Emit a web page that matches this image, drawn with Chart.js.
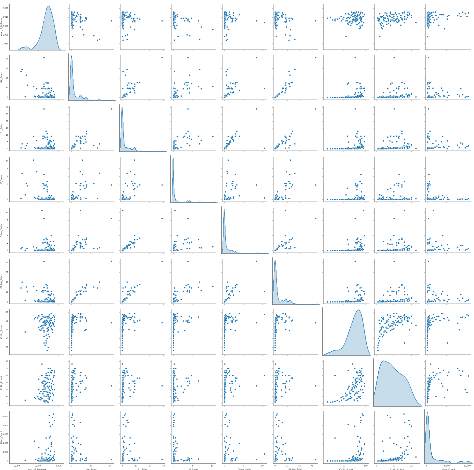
<!DOCTYPE html>
<html><head><meta charset="utf-8">
<script src="https://cdn.jsdelivr.net/npm/chart.js@4"></script>
<style>html,body{margin:0;padding:0;background:#fff;width:474px;height:470px;overflow:hidden;position:relative}canvas{position:absolute}</style>
</head><body>
<script>
const varNames=["Year_of_Release","NA_Sales","EU_Sales","JP_Sales","Other_Sales","Global_Sales","Critic_Score","Critic_Count","User_Count"];
const n=null;
const yearVals=[2006,1985,2008,2009,1996,1989,2006,2006,2009,1984,1999,2005,2007,2010,2009,2013,2004,1990,2005,2013,2015,2011,2010,2011,2012,2015,2014,2016,2011,1997,2001,1988,2004,2012,2014,2008,
2008,2010,2007,2003,2011,2009,2006,2012,2005,2014,2002,2008,2013,2007,2010,2004,2016,2009,2001,2011,2006,2012,2008,2005,2015,2003,2010,2007,2013,2009,2000,2008,2011,2006,2014,2010,2002,2012,2007,2016,2004,2009,2011,2005,2013,1998,2008,2010,2006,2015,2003,2012,2007,2009,2014,2001,2008,2011,2006,2010,2013,2016,2015,2009];
const naVals=[41.36,29.08,15.68,15.61,11.27,23.2,11.28,13.96,14.44,26.93,9,9.71,8.92,15,9.01,7.02,9.43,12.78,4.74,9.66,6.03,9.04,9.7,5.54,4.99,1.02,0.28,2.8,0.84,1.4,2.1,0.9,0.5,3.2,1.5,0.2,
0.45,0.12,1.2,0.3,0.05,0.6,0.08,0.9,0.25,0.4,0.7,0.02,0.15,2.5,0.35,0.1,0.2,0.05,1.8,0.65,0.18,0.03,3.5,0.55,0.12,0.4,0.08,0.3,1.6,0.22,0.95,0.07,0.28,0.85,0.05,4.2,0.15,0.45,0.03,0.5,1.1,0.12,0.02,0.33,0.7,0.6,0.18,0.9,0.04,0.25,0.12,2.1,0.5,1.5,0.1,0.25,0.65,0.15,0.4,0.02,0.08,0.05,0.02,0.01];
const euVals=[28.96,3.58,12.76,10.93,8.89,2.26,9.14,9.18,6.94,0.63,6.18,7.47,8.03,4.89,8.49,9.09,0.4,3.75,9.2,5.14,5.86,4.24,3.68,5.73,5.73,2.13,0.62,3.5,1.6,0.9,1.1,0.3,0.3,2.7,0.8,0.1,
0.3,0.05,0.6,0.1,0.1,0.45,0.02,0.7,0.2,0.5,0.25,0.01,0.3,1.2,0.15,0.05,0.35,0.02,0.8,0.4,0.1,0.04,2.0,0.2,0.25,0.3,0.06,0.25,1.4,0.1,0.55,0.03,0.35,0.4,0.02,3.1,0.08,0.2,0.02,0.9,0.7,0.15,0.01,0.18,0.95,0.4,0.12,0.6,0.01,0.45,0.03,1.8,0.35,1.0,0.08,0.1,0.55,0.05,0.6,0,0.2,0.1,0.05,0.02];
const jpVals=[3.77,6.81,3.79,3.28,10.22,4.22,6.5,2.93,4.7,0.28,7.2,4.13,3.6,0.24,2.53,0.98,0.41,3.54,4.16,0.06,0.36,0.13,0.11,0.49,0.65,0.23,0,0.15,0.02,0.6,0.9,1.2,0.2,0.1,0,0,
0,0,0.05,0,0.25,0.02,0,0.05,0.1,0.03,0,0.4,0.01,0.1,0,0,0.05,0,0.2,0,0,0.6,0.3,0,0.02,0.05,0,0.15,0.1,0,0.35,0,0.02,0,0.2,0.6,0,0,0,0.08,0.05,0,1.1,0,0.02,0.25,0,0,0,0.01,0,0.05,0,2.0,0,0,0.05,0,0,0,0,0,0,0];
const otherVals=[8.45,0.77,3.29,2.95,1.0,0.58,2.88,2.84,2.24,0.47,0.71,1.9,2.15,1.69,1.77,3.96,10.57,0.55,2.04,1.41,2.38,1.32,1.13,1.57,2.42,0.59,0.14,1.3,0.35,0.1,0.3,0.05,0.1,0.9,0.2,0.02,
0.08,0.02,0.2,0.01,0.02,0.15,0.01,0.25,0.05,0.15,0.05,0,0.06,0.4,0.05,0.01,0.08,0.01,0.15,0.12,0.03,0.01,0.8,0.03,0.05,0.08,0.02,0.08,0.5,0.03,0.1,0.01,0.1,0.1,0.01,1.1,0.02,0.07,0,0.25,0.2,0.04,0.01,0.04,0.3,0.05,0.03,0.15,0,0.1,0.01,0.6,0.08,0.3,0.02,0.02,0.15,0.02,0.1,0,0.03,0.02,0.01,0];
const globalVals=[82.53,40.24,35.52,32.77,31.37,30.26,29.8,28.92,28.32,28.31,23.1,23.21,22.7,21.81,21.79,21.04,20.81,20.61,20.15,16.27,14.63,14.73,14.61,13.33,13.79,3.97,1.04,7.75,2.81,3.0,4.4,2.45,1.1,6.9,2.5,0.32,
0.83,0.19,2.05,0.41,0.42,1.22,0.11,1.9,0.6,1.08,1.0,0.43,0.52,4.2,0.55,0.16,0.68,0.08,2.95,1.17,0.31,0.68,6.6,0.78,0.44,0.83,0.16,0.78,3.6,0.35,1.95,0.11,0.75,1.35,0.28,9.0,0.25,0.72,0.05,1.73,2.05,0.31,1.14,0.55,1.97,1.3,0.33,1.65,0.05,0.81,0.16,4.55,0.93,4.8,0.2,0.37,1.4,0.22,1.1,0.02,0.31,0.17,0.08,0.03];
const criticScoreVals=[76,n,82,80,n,n,89,58,87,n,n,91,80,61,80,97,95,n,77,97,n,88,87,88,83,92,88,89,94,85,90,55,70,75,60,30,
72,65,81,68,74,78,45,85,70,76,80,82,69,88,58,62,79,40,92,73,55,77,90,66,71,84,50,75,86,63,87,35,70,79,74,91,60,67,25,83,86,57,80,64,81,88,48,76,30,72,59,82,70,90,54,66,77,44,71,20,62,68,75,13];
const criticCountVals=[51,n,73,73,n,n,65,41,80,n,n,64,63,45,33,50,80,n,58,58,n,81,89,39,21,79,40,93,32,18,70,10,113,100,95,80,
35,20,55,18,12,60,10,70,40,65,30,8,45,75,25,15,90,6,40,50,22,30,85,28,55,35,14,45,95,33,20,9,60,48,10,100,12,38,5,80,60,25,15,30,88,15,20,70,7,75,11,90,42,50,30,14,58,18,35,4,50,40,25,5];
const userCountVals=[324,n,709,192,n,n,431,129,594,n,n,464,146,106,52,3994,1588,n,50,3711,n,8713,1454,5234,2256,10665,9851,9200,10300,4500,3000,80,900,7900,8300,5200,
120,40,300,25,15,450,8,1200,60,800,150,20,400,1800,35,12,1500,10,600,250,18,90,2500,45,650,200,20,110,4200,70,180,15,700,220,30,2900,14,300,6,2100,500,22,40,30,3300,350,25,600,9,1100,10,5600,130,380,95,20,260,16,75,5,600,250,150,7];
const xTicks=[[1980,2000,2020],[0,20,40],[0,10,20,30],[0,5,10],[0,5,10],[0,25,50,75],[50,100],[0,50,100],[0,5000,10000]];
const yTicks=[[1980,1990,2000,2010,2020],[0,10,20,30,40],[0,5,10,15,20,25,30],[0,2,4,6,8,10],[0,2,4,6,8,10],[0,20,40,60,80],[20,40,60,80,100],[0,20,40,60,80,100,120],[0,2000,4000,6000,8000,10000]];
const ranges=[[1973,2025],[-2.5,44],[-1.5,31],[-0.6,11],[-0.6,11.2],[-4,87],[3,107],[-6,124],[-550,11300]];

const allVals=[yearVals,naVals,euVals,jpVals,otherVals,globalVals,criticScoreVals,criticCountVals,userCountVals];
const N=Math.min(...allVals.map(a=>a.length));
const BLUE='#1f77b4';
const F='DejaVu Sans';
function kde(vals,lo,hi){
  const v=vals.slice(0,N).filter(x=>x!==null);
  const m=v.reduce((a,b)=>a+b,0)/v.length;
  const sd=Math.sqrt(v.reduce((a,b)=>a+(b-m)*(b-m),0)/(v.length-1));
  const s=[...v].sort((a,b)=>a-b);
  const q=p=>s[Math.floor(p*(s.length-1))];
  const iqr=q(0.75)-q(0.25);
  const bw=0.9*Math.max(Math.min(sd,iqr/1.34),sd*0.02)*Math.pow(v.length,-0.2);
  const pts=[];const steps=240;
  const a=Math.max(lo,Math.min(...v)-3*bw), b=Math.min(hi,Math.max(...v)+3*bw);
  for(let i=0;i<=steps;i++){const x=a+(b-a)*i/steps;let t2=0;for(const t of v){const z=(x-t)/bw;t2+=Math.exp(-0.5*z*z);}pts.push({x,y:t2/(v.length*bw*Math.sqrt(2*Math.PI))});}
  return pts;
}
const P=50.9, W=45.5;
for(let r=0;r<9;r++){for(let c=0;c<9;c++){
  const L=c===0?19:3, B=r===8?15:3;
  const cv=document.createElement('canvas');
  const cw=L+W+1, ch=1+W+B;
  cv.style.left=(19+c*P-L)+'px'; cv.style.top=(3+r*P-1)+'px';
  cv.style.width=cw+'px'; cv.style.height=ch+'px';
  cv.width=cw*2; cv.height=ch*2;
  document.body.appendChild(cv);
  const datasets=[];
  const scales={
    x:{type:'linear',min:ranges[c][0],max:ranges[c][1],
      afterBuildTicks:s=>{s.ticks=xTicks[c].map(v=>({value:v}));},
      afterFit:s=>{s.height=B;},
      grid:{display:true,drawOnChartArea:false,tickLength:1.5,color:'#444',lineWidth:0.5},
      border:{display:true,color:'#333',width:0.6},
      ticks:{display:r===8,font:{size:4,family:F},color:'#333',padding:1,maxRotation:0,autoSkip:false},
      title:{display:r===8,text:varNames[c],font:{size:4.5,family:F},color:'#333',padding:{top:1,bottom:0}}},
    y:{type:'linear',min:ranges[r][0],max:ranges[r][1],
      afterBuildTicks:s=>{s.ticks=yTicks[r].map(v=>({value:v}));},
      afterFit:s=>{s.width=L;},
      grid:{display:true,drawOnChartArea:false,tickLength:1.5,color:'#444',lineWidth:0.5},
      border:{display:true,color:'#333',width:0.6},
      ticks:{display:c===0,font:{size:4,family:F},color:'#333',padding:1,autoSkip:false},
      title:{display:c===0,text:varNames[r],font:{size:4.5,family:F},color:'#333',padding:{top:0,bottom:1}}}
  };
  if(r===c){
    const pts=kde(allVals[c],ranges[c][0],ranges[c][1]);
    const mx=Math.max(...pts.map(p=>p.y));
    scales.yk={type:'linear',display:false,min:0,max:mx*1.05};
    datasets.push({type:'line',data:pts,yAxisID:'yk',borderColor:BLUE,borderWidth:0.8,backgroundColor:'rgba(31,119,180,0.25)',fill:{target:{value:0}},pointRadius:0,tension:0});
  } else {
    const xv=allVals[c], yv=allVals[r], pts=[];
    for(let i=0;i<N;i++){if(xv[i]!==null&&yv[i]!==null)pts.push({x:xv[i],y:yv[i]});}
    datasets.push({type:'scatter',data:pts,backgroundColor:BLUE,borderColor:'#fff',borderWidth:0.3,pointRadius:1.5,clip:false});
  }
  new Chart(cv,{data:{datasets},options:{responsive:false,animation:false,devicePixelRatio:2,
    layout:{padding:{top:1,right:1,left:0,bottom:0}},
    plugins:{legend:{display:false},tooltip:{enabled:false}},scales}});
}}
</script>
</body></html>
